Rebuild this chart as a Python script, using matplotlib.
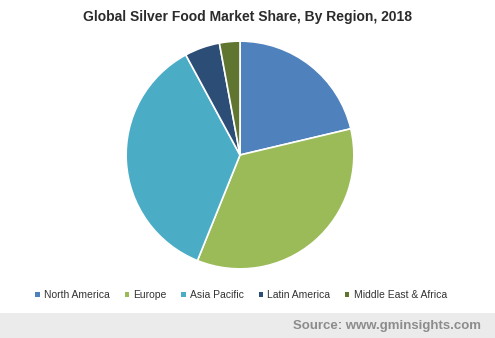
import matplotlib
matplotlib.use('Agg')
import matplotlib.pyplot as plt
from matplotlib.patches import Rectangle, Patch

plt.rcParams['font.family'] = ['Liberation Sans', 'DejaVu Sans']

regions = ['North America', 'Europe', 'Asia Pacific', 'Latin America', 'Middle East & Africa']
shares = [21.3, 34.8, 36.0, 5.0, 2.9]
colors = ['#4f81bd', '#9bbb59', '#4bacc6', '#2c4d75', '#5f7530']

fig = plt.figure(figsize=(4.95, 3.38), dpi=100)

# grey source band at the bottom
fig.patches.append(Rectangle((0, 0), 1, 25 / 338, transform=fig.transFigure,
                             facecolor='#ebebeb', edgecolor='none', zorder=0))
fig.text(481 / 495, 12 / 338, 'Source: www.gminsights.com', ha='right', va='center',
         fontsize=9.5, fontweight='bold', color='#8c8c8c')

fig.text(0.5, 1 - 17 / 338, 'Global Silver Food Market Share, By Region, 2018',
         ha='center', va='center', fontsize=10, fontweight='bold', color='#2b2b2b')

ax = fig.add_axes([(240 - 115) / 495, (338 - 270) / 338, 230 / 495, 230 / 338])
wedges, _ = ax.pie(shares, colors=colors, startangle=90, counterclock=False,
                   radius=1, wedgeprops={'edgecolor': 'white', 'linewidth': 1.2})
ax.set_xlim(-1.01, 1.01)
ax.set_ylim(-1.01, 1.01)
ax.set_aspect('equal')

handles = [Patch(facecolor=c, edgecolor='none') for c in colors]
fig.legend(handles, regions, loc='center', bbox_to_anchor=(0.487, 1 - 295 / 338),
           ncol=5, frameon=False, fontsize=7.5, handlelength=0.4, handleheight=0.4,
           handletextpad=0.4, columnspacing=1.45, labelcolor='#333333')

fig.savefig('out.png', dpi=100)
